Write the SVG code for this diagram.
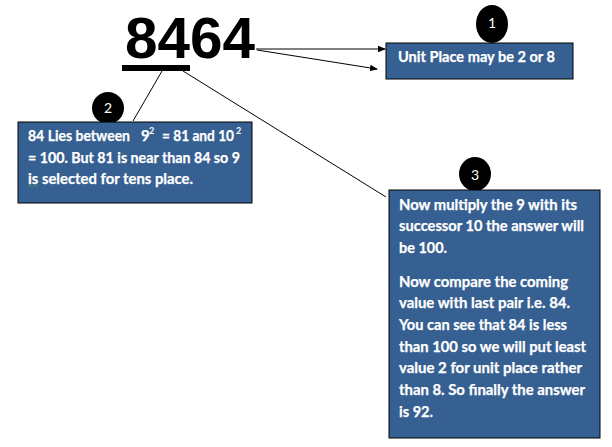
<svg xmlns="http://www.w3.org/2000/svg" width="612" height="447" viewBox="0 0 612 447">
<style>
.box{fill:#376092;stroke:#000;stroke-width:1}
.badge{fill:#000}
.num{font-family:Lato,"Liberation Sans",sans-serif;font-size:14px;fill:#fff;text-anchor:middle}
.t{font-family:Lato,"Liberation Sans",sans-serif;font-weight:bold;font-size:15px;fill:#fff;stroke:#fff;stroke-width:0.25}
.sup{font-family:Lato,"Liberation Sans",sans-serif;font-weight:bold;font-size:9px;fill:#fff}
.ln{stroke:#000;stroke-width:1;fill:none}
</style>
<defs>
<marker id="ah" markerWidth="8" markerHeight="8" refX="7" refY="4" orient="auto" markerUnits="userSpaceOnUse">
<path d="M0,0.8 L8,4 L0,7.2 Z" fill="#000"/>
</marker>
</defs>
<rect width="612" height="447" fill="#fff"/>
<g id="number">
<text x="125" y="58" font-family="'Liberation Sans',Arial,sans-serif" font-weight="bold" font-size="57" textLength="130" lengthAdjust="spacingAndGlyphs" fill="#000">8464</text>
<rect x="122" y="65" width="68" height="6" fill="#000"/>
</g>
<g id="connectors">
<line class="ln" x1="256" y1="49" x2="385" y2="49" marker-end="url(#ah)"/>
<line class="ln" x1="257" y1="50" x2="377" y2="69" marker-end="url(#ah)"/>
<line class="ln" x1="162" y1="71" x2="133" y2="121"/>
<line class="ln" x1="183" y1="71" x2="386" y2="197"/>
</g>
<g id="node1">
<ellipse class="badge" cx="492" cy="24" rx="16" ry="19"/>
<rect class="box" x="386" y="43" width="187" height="36"/>
<text class="num" x="492" y="28">1</text>
<text class="t" x="398" y="62" textLength="157" lengthAdjust="spacingAndGlyphs">Unit Place may be 2 or 8</text>
</g>
<g id="node2">
<ellipse class="badge" cx="108" cy="108" rx="16" ry="16"/>
<rect class="box" x="18" y="122" width="234" height="81"/>
<text class="num" x="108" y="113">2</text>
<text class="t" x="28" y="141" textLength="102" lengthAdjust="spacingAndGlyphs">84 Lies between</text>
<text class="t" x="141" y="141">9</text>
<text class="sup" x="149" y="134">2</text>
<text class="t" x="162" y="141" textLength="72" lengthAdjust="spacingAndGlyphs">= 81 and 10</text>
<text class="sup" x="236" y="134">2</text>
<text class="t" x="28" y="163" textLength="212" lengthAdjust="spacingAndGlyphs">= 100. But 81 is near than 84 so 9</text>
<text class="t" x="28" y="184" textLength="165" lengthAdjust="spacingAndGlyphs">is selected for tens place.</text>
<path d="M28,187 l1.5,-1.5 l1.5,1.5 l1.5,-1.5 l1.5,1.5 l1.5,-1.5 l1.5,1.5 l1.5,-1.5" stroke="#3c9a3c" stroke-width="0.8" fill="none"/>
</g>
<g id="node3">
<ellipse class="badge" cx="475" cy="174" rx="16" ry="17"/>
<rect class="box" x="389" y="190" width="211" height="248"/>
<text class="num" x="475" y="180">3</text>
<text class="t" x="399" y="210" textLength="178" lengthAdjust="spacingAndGlyphs">Now multiply the 9 with its</text>
<text class="t" x="399" y="231" textLength="185" lengthAdjust="spacingAndGlyphs">successor 10 the answer will</text>
<text class="t" x="399" y="253" textLength="48" lengthAdjust="spacingAndGlyphs">be 100.</text>
<text class="t" x="399" y="287" textLength="169" lengthAdjust="spacingAndGlyphs">Now compare the coming</text>
<text class="t" x="399" y="308" textLength="171" lengthAdjust="spacingAndGlyphs">value with last pair i.e. 84.</text>
<text class="t" x="399" y="330" textLength="168" lengthAdjust="spacingAndGlyphs">You can see that 84 is less</text>
<text class="t" x="399" y="352" textLength="187" lengthAdjust="spacingAndGlyphs">than 100 so we will put least</text>
<text class="t" x="399" y="373" textLength="183" lengthAdjust="spacingAndGlyphs">value 2 for unit place rather</text>
<text class="t" x="399" y="395" textLength="186" lengthAdjust="spacingAndGlyphs">than 8. So finally the answer</text>
<text class="t" x="399" y="417" textLength="34" lengthAdjust="spacingAndGlyphs">is 92.</text>
</g>
</svg>
